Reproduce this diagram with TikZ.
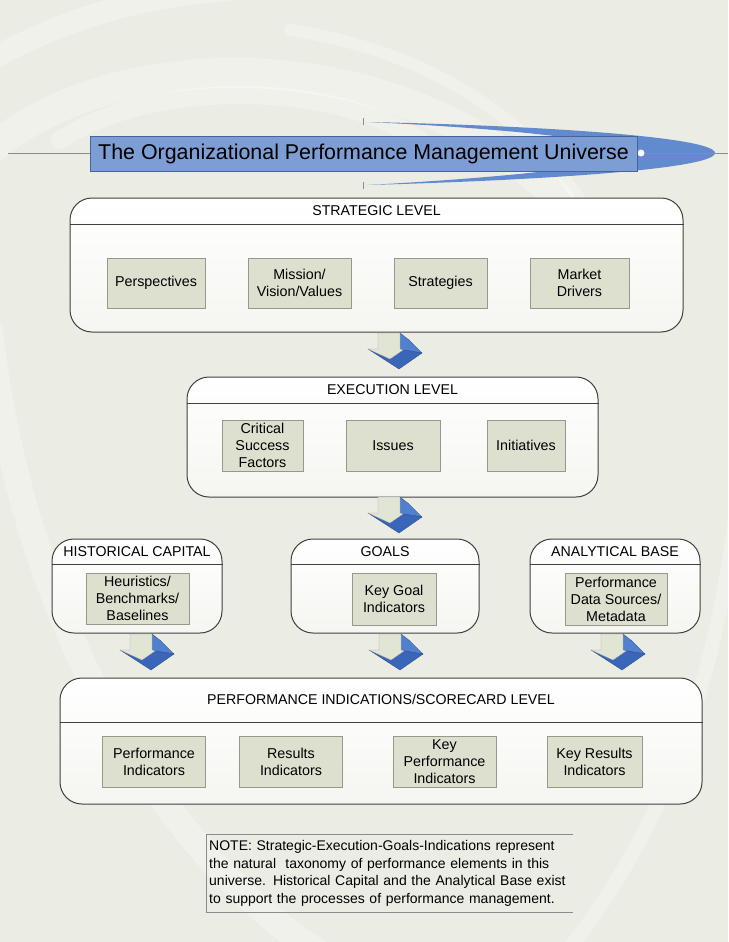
\documentclass[tikz,border=0pt]{standalone}
\usepackage{fontspec}
\setmainfont{Liberation Sans}
\usetikzlibrary{positioning}
\definecolor{bgc}{RGB}{235,236,227}
\definecolor{boxfill}{RGB}{221,224,207}
\definecolor{boxline}{RGB}{150,152,140}
\definecolor{titlefill}{RGB}{124,158,212}
\definecolor{titleline}{RGB}{72,100,150}
\definecolor{swoosh}{RGB}{98,138,206}
\definecolor{arrowfill}{RGB}{225,229,212}
\definecolor{bluetop}{RGB}{80,128,206}
\definecolor{bluebot}{RGB}{58,102,186}
\begin{document}
\begin{tikzpicture}[x=1pt,y=-1pt,
    every node/.style={font=\fontsize{14.3}{17}\selectfont},
    level/.style={draw=black!75,line width=1pt,rounded corners=22pt,
      top color=white,bottom color=bgc!50!white,inner sep=0pt},
    item/.style={draw=boxline,fill=boxfill,align=center,inner sep=0pt},
    header/.style={font=\fontsize{14.2}{16}\selectfont},
    band/.style={white,opacity=.3,line cap=round}]
  % page and background swooshes
  \fill[bgc] (0,0) rectangle (728,942);
  \useasboundingbox (0,0) rectangle (728,942);
  \draw[band,line width=22pt] (-10,60) .. controls (80,10) and (160,-5) .. (230,-10);
  \draw[band,line width=30pt] (-10,150) .. controls (120,40) and (400,40) .. (560,200);
  \draw[band,line width=18pt] (60,140) .. controls (150,80) and (330,80) .. (420,140);
  \draw[band,line width=12pt] (290,30) .. controls (420,50) and (520,110) .. (580,200);
  \draw[band,line width=26pt] (-10,330) .. controls (20,600) and (150,850) .. (330,960);
  \draw[band,line width=14pt] (740,470) .. controls (720,700) and (650,850) .. (560,960);
  % title
  \fill[swoosh] (367,122) .. controls (520,125) and (715,136) .. (715,153)
    .. controls (715,170) and (520,181) .. (367,185)
    .. controls (500,178) and (620,166) .. (630,153)
    .. controls (620,140) and (500,128) .. (367,122) -- cycle;
  \draw[black!45,line width=.6pt] (8,153) -- (728,153);
  \draw[black!45,line width=.6pt] (363,118) -- (363,125) (363,182) -- (363,189);
  \fill[white] (641,153) circle (3.5);
  \node[draw=titleline,fill=titlefill,minimum width=547,minimum height=35,inner sep=0pt,
    font=\fontsize{21.4}{24}\selectfont] (title) at (363.5,153.5)
    {The Organizational Performance Management Universe};
  % strategic level
  \node[level,minimum width=613,minimum height=134] (strat) at (376.5,265) {};
  \draw[black!75,line width=1pt] (strat.west |- 0,224) -- (strat.east |- 0,224);
  \node[header] (strathead) at (strat.north |- 0,211) {STRATEGIC LEVEL};
  \node[item,minimum width=98,minimum height=50] (persp) at (156,283) {Perspectives};
  \node[item,minimum width=103,minimum height=50] (mission) at (299.5,283) {Mission/\\Vision/Values};
  \node[item,minimum width=93,minimum height=50] (strategies) at (440.5,283) {Strategies};
  \node[item,minimum width=99,minimum height=50] (market) at (579.5,283) {Market\\Drivers};
  % execution level
  \node[level,minimum width=411,minimum height=120] (exec) at (392.5,437) {};
  \draw[black!75,line width=1pt] (exec.west |- 0,403) -- (exec.east |- 0,403);
  \node[header] (exechead) at (exec.north |- 0,390) {EXECUTION LEVEL};
  \node[item,minimum width=81,minimum height=51] (csf) at (262.5,445.5) {Critical\\Success\\Factors};
  \node[item,minimum width=94,minimum height=51] (issues) at (393,445.5) {Issues};
  \node[item,minimum width=78,minimum height=51] (init) at (526,445.5) {Initiatives};
  % supporting levels
  \node[level,minimum width=170,minimum height=94] (hist) at (137,586) {};
  \draw[black!75,line width=1pt] (hist.west |- 0,564) -- (hist.east |- 0,564);
  \node[header] (histhead) at (hist.north |- 0,552) {HISTORICAL CAPITAL};
  \node[item,minimum width=103,minimum height=51] (heur) at (137.5,598.5) {Heuristics/\\Benchmarks/\\Baselines};
  \node[level,minimum width=188,minimum height=94] (goals) at (385,586) {};
  \draw[black!75,line width=1pt] (goals.west |- 0,564) -- (goals.east |- 0,564);
  \node[header] (goalshead) at (goals.north |- 0,552) {GOALS};
  \node[item,minimum width=84,minimum height=52] (kgi) at (394,599) {Key Goal\\Indicators};
  \node[level,minimum width=170,minimum height=94] (anal) at (615,586) {};
  \draw[black!75,line width=1pt] (anal.west |- 0,564) -- (anal.east |- 0,564);
  \node[header] (analhead) at (anal.north |- 0,552) {ANALYTICAL BASE};
  \node[item,minimum width=102,minimum height=52] (pdata) at (616,599) {Performance\\Data Sources/\\Metadata};
  % scorecard level
  \node[level,minimum width=642,minimum height=126] (perf) at (381,741) {};
  \draw[black!75,line width=1pt] (perf.west |- 0,722) -- (perf.east |- 0,722);
  \node[header] (perfhead) at (perf.north |- 0,699) {PERFORMANCE INDICATIONS/SCORECARD LEVEL};
  \node[item,minimum width=103,minimum height=51] (pi) at (154,762) {Performance\\Indicators};
  \node[item,minimum width=103,minimum height=51] (ri) at (291,762) {Results\\Indicators};
  \node[item,minimum width=103,minimum height=51] (kpi) at (444.5,762) {Key\\Performance\\Indicators};
  \node[item,minimum width=95,minimum height=51] (kri) at (594.5,762) {Key Results\\Indicators};
  % block arrows
  \foreach \ax/\ay in {389/333,389/497,141/634,390/634,612/634} {
    \begin{scope}[shift={(\ax,\ay)}]
      \fill[bluetop,draw=bluebot!70!black,line width=.3pt]
        (11,0) -- (20,7) -- (33,20) -- (14,17) -- (11,16) -- cycle;
      \fill[bluebot,draw=bluebot!70!black,line width=.3pt]
        (-21,16) -- (1,26) -- (14,17) -- (33,20) -- (10,36) -- cycle;
      \fill[arrowfill,draw=black!35,line width=.3pt]
        (-11,0) -- (11,0) -- (11,16) -- (14,17) -- (1,26) -- (-21,16) -- (-11,16) -- cycle;
    \end{scope}
  }
  % note
  \node[anchor=north west,text width=361,inner xsep=3,inner ysep=0,minimum height=78,
    align=left,font=\fontsize{14}{17.5}\selectfont] (note) at (206,834)
    {NOTE: Strategic-Execution-Goals-Indications represent\\
     the natural\ \ taxonomy of performance elements in this\\
     universe. Historical Capital and the Analytical Base exist\\
     to support the processes of performance management.};
  \draw[black!45,line width=.7pt] (note.north east) -- (note.north west)
    -- (note.south west) -- (note.south east);
\end{tikzpicture}
\end{document}
